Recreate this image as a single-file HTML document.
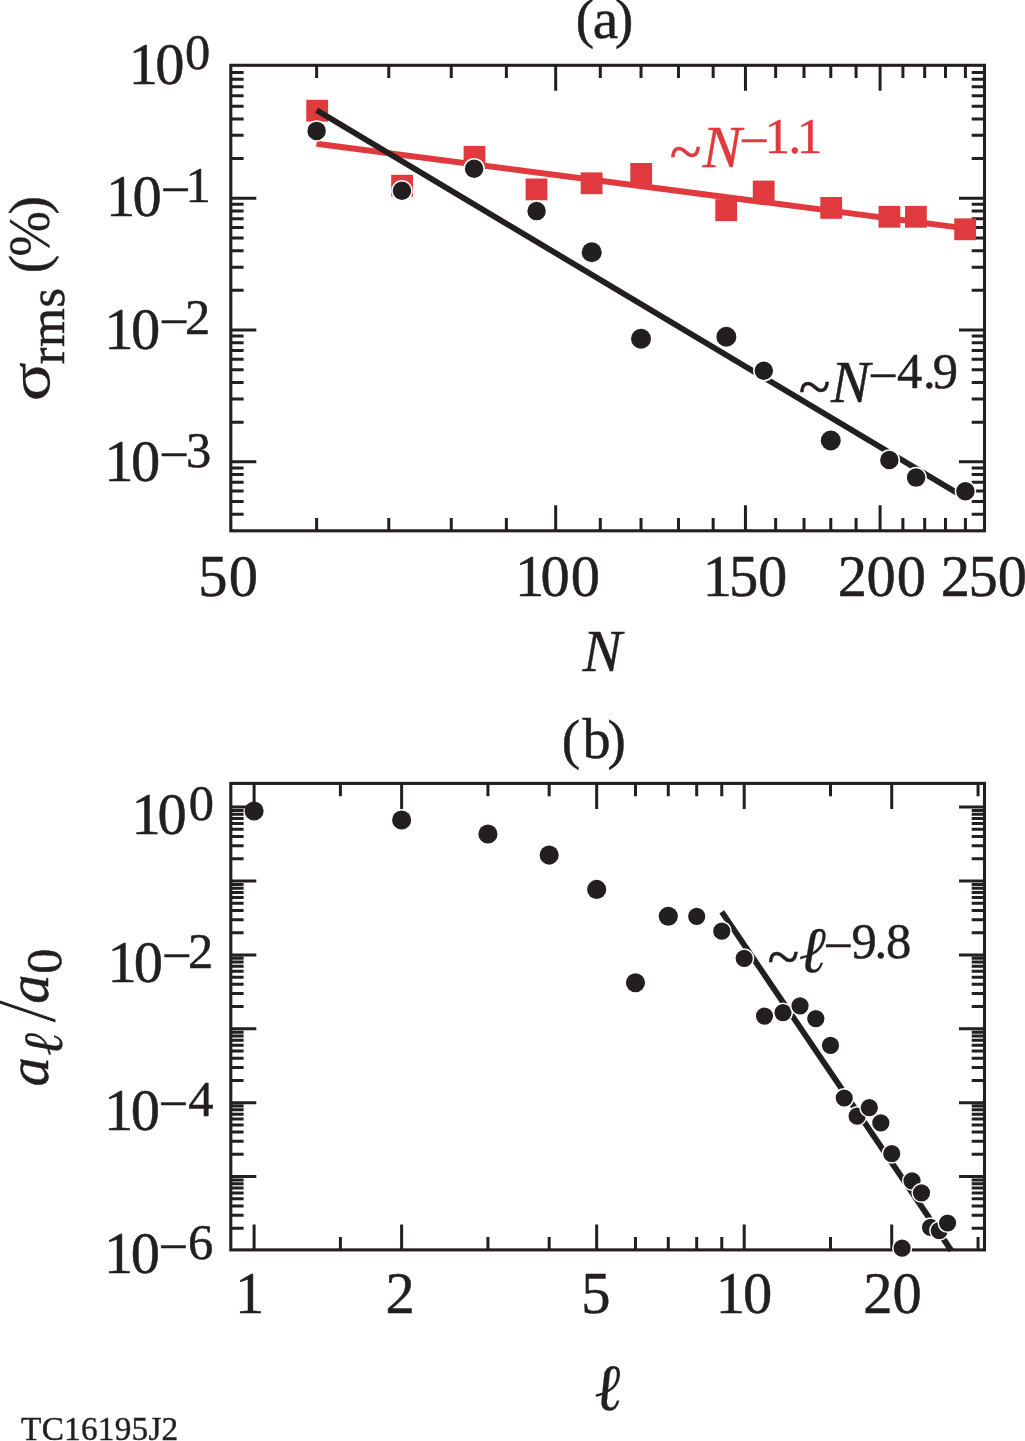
<!DOCTYPE html>
<html><head><meta charset="utf-8"><title>Figure</title>
<style>
html,body{margin:0;padding:0;background:#fff;overflow:hidden;}
svg{display:block;}
text{font-family:"Liberation Serif",serif;fill:#231f20;stroke:#231f20;stroke-width:0.5px;white-space:pre;}
</style></head><body>
<svg width="1025" height="1441" viewBox="0 0 1025 1441">
<rect width="1025" height="1441" fill="#fff"/>
<path d="M316.63 65.3v12.8M316.63 530.8v-12.8M388.77 65.3v12.8M388.77 530.8v-12.8M451.26 65.3v12.8M451.26 530.8v-12.8M506.38 65.3v12.8M506.38 530.8v-12.8M555.69 65.3v25.5M555.69 530.8v-25.5M600.29 65.3v12.8M600.29 530.8v-12.8M641.02 65.3v12.8M641.02 530.8v-12.8M678.48 65.3v12.8M678.48 530.8v-12.8M713.16 65.3v12.8M713.16 530.8v-12.8M745.45 65.3v25.5M745.45 530.8v-25.5M775.65 65.3v12.8M775.65 530.8v-12.8M804.02 65.3v12.8M804.02 530.8v-12.8M830.77 65.3v12.8M830.77 530.8v-12.8M856.07 65.3v12.8M856.07 530.8v-12.8M880.08 65.3v25.5M880.08 530.8v-25.5M902.91 65.3v12.8M902.91 530.8v-12.8M924.68 65.3v12.8M924.68 530.8v-12.8M945.49 65.3v12.8M945.49 530.8v-12.8M965.41 65.3v12.8M965.41 530.8v-12.8M230.8 198.25h25.5M984.5 198.25h-25.5M230.8 158.57h12.8M984.5 158.57h-12.8M230.8 135.37h12.8M984.5 135.37h-12.8M230.8 118.90h12.8M984.5 118.90h-12.8M230.8 106.13h12.8M984.5 106.13h-12.8M230.8 95.69h12.8M984.5 95.69h-12.8M230.8 86.87h12.8M984.5 86.87h-12.8M230.8 79.22h12.8M984.5 79.22h-12.8M230.8 72.48h12.8M984.5 72.48h-12.8M230.8 330.05h25.5M984.5 330.05h-25.5M230.8 290.37h12.8M984.5 290.37h-12.8M230.8 267.17h12.8M984.5 267.17h-12.8M230.8 250.70h12.8M984.5 250.70h-12.8M230.8 237.93h12.8M984.5 237.93h-12.8M230.8 227.49h12.8M984.5 227.49h-12.8M230.8 218.67h12.8M984.5 218.67h-12.8M230.8 211.02h12.8M984.5 211.02h-12.8M230.8 204.28h12.8M984.5 204.28h-12.8M230.8 461.85h25.5M984.5 461.85h-25.5M230.8 422.17h12.8M984.5 422.17h-12.8M230.8 398.97h12.8M984.5 398.97h-12.8M230.8 382.50h12.8M984.5 382.50h-12.8M230.8 369.73h12.8M984.5 369.73h-12.8M230.8 359.29h12.8M984.5 359.29h-12.8M230.8 350.47h12.8M984.5 350.47h-12.8M230.8 342.82h12.8M984.5 342.82h-12.8M230.8 336.08h12.8M984.5 336.08h-12.8M230.8 514.30h12.8M984.5 514.30h-12.8M230.8 501.53h12.8M984.5 501.53h-12.8M230.8 491.09h12.8M984.5 491.09h-12.8M230.8 482.27h12.8M984.5 482.27h-12.8M230.8 474.62h12.8M984.5 474.62h-12.8M230.8 467.88h12.8M984.5 467.88h-12.8" stroke="#231f20" stroke-width="3.0" fill="none"/>
<rect x="230.8" y="65.3" width="753.70" height="465.50" fill="none" stroke="#231f20" stroke-width="3.1"/>
<rect x="306.30" y="99.80" width="21.8" height="21.8" fill="#e0393e"/>
<rect x="391.20" y="174.80" width="21.8" height="21.8" fill="#e0393e"/>
<rect x="463.60" y="145.90" width="21.8" height="21.8" fill="#e0393e"/>
<rect x="525.60" y="178.50" width="21.8" height="21.8" fill="#e0393e"/>
<rect x="580.70" y="172.40" width="21.8" height="21.8" fill="#e0393e"/>
<rect x="630.30" y="163.00" width="21.8" height="21.8" fill="#e0393e"/>
<rect x="715.30" y="199.30" width="21.8" height="21.8" fill="#e0393e"/>
<rect x="752.80" y="180.60" width="21.8" height="21.8" fill="#e0393e"/>
<rect x="820.30" y="197.00" width="21.8" height="21.8" fill="#e0393e"/>
<rect x="878.50" y="205.90" width="21.8" height="21.8" fill="#e0393e"/>
<rect x="905.00" y="205.90" width="21.8" height="21.8" fill="#e0393e"/>
<rect x="954.25" y="218.40" width="21.8" height="21.8" fill="#e0393e"/>
<line x1="316.5" y1="143.7" x2="965.5" y2="228.4" stroke="#e0393e" stroke-width="6"/>
<line x1="316.7" y1="110.3" x2="963" y2="496.6" stroke="#231f20" stroke-width="5.8"/>
<circle cx="316.63" cy="130.90" r="10" fill="#231f20" stroke="#fff" stroke-width="1.5"/>
<circle cx="401.95" cy="190.80" r="10" fill="#231f20" stroke="#fff" stroke-width="1.5"/>
<circle cx="474.09" cy="168.70" r="10" fill="#231f20" stroke="#fff" stroke-width="1.5"/>
<circle cx="536.59" cy="211.10" r="10" fill="#231f20" stroke="#fff" stroke-width="1.5"/>
<circle cx="591.71" cy="252.30" r="10" fill="#231f20"/>
<circle cx="641.02" cy="338.80" r="10" fill="#231f20"/>
<circle cx="726.34" cy="336.80" r="10" fill="#231f20"/>
<circle cx="763.80" cy="370.80" r="10" fill="#231f20" stroke="#fff" stroke-width="1.5"/>
<circle cx="830.77" cy="440.50" r="10" fill="#231f20"/>
<circle cx="889.35" cy="460.00" r="10" fill="#231f20" stroke="#fff" stroke-width="1.5"/>
<circle cx="916.10" cy="477.60" r="10" fill="#231f20" stroke="#fff" stroke-width="1.5"/>
<circle cx="965.41" cy="491.30" r="10" fill="#231f20" stroke="#fff" stroke-width="1.5"/>
<path d="M254.10 783.4v25.5M254.10 1249.9v-25.5M340.40 783.4v12.8M340.40 1249.9v-12.8M401.63 783.4v25.5M401.63 1249.9v-25.5M487.94 783.4v12.8M487.94 1249.9v-12.8M549.17 783.4v12.8M549.17 1249.9v-12.8M596.67 783.4v25.5M596.67 1249.9v-25.5M635.47 783.4v12.8M635.47 1249.9v-12.8M668.28 783.4v12.8M668.28 1249.9v-12.8M696.70 783.4v12.8M696.70 1249.9v-12.8M721.77 783.4v12.8M721.77 1249.9v-12.8M744.20 783.4v25.5M744.20 1249.9v-25.5M830.50 783.4v12.8M830.50 1249.9v-12.8M891.73 783.4v25.5M891.73 1249.9v-25.5M978.04 783.4v12.8M978.04 1249.9v-12.8M230.8 807.10h25.5M984.5 807.10h-25.5M230.8 881.00h25.5M984.5 881.00h-25.5M230.8 858.75h12.8M984.5 858.75h-12.8M230.8 845.74h12.8M984.5 845.74h-12.8M230.8 836.51h12.8M984.5 836.51h-12.8M230.8 829.35h12.8M984.5 829.35h-12.8M230.8 823.49h12.8M984.5 823.49h-12.8M230.8 818.55h12.8M984.5 818.55h-12.8M230.8 814.26h12.8M984.5 814.26h-12.8M230.8 810.48h12.8M984.5 810.48h-12.8M230.8 954.90h25.5M984.5 954.90h-25.5M230.8 932.65h12.8M984.5 932.65h-12.8M230.8 919.64h12.8M984.5 919.64h-12.8M230.8 910.41h12.8M984.5 910.41h-12.8M230.8 903.25h12.8M984.5 903.25h-12.8M230.8 897.39h12.8M984.5 897.39h-12.8M230.8 892.45h12.8M984.5 892.45h-12.8M230.8 888.16h12.8M984.5 888.16h-12.8M230.8 884.38h12.8M984.5 884.38h-12.8M230.8 1028.80h25.5M984.5 1028.80h-25.5M230.8 1006.55h12.8M984.5 1006.55h-12.8M230.8 993.54h12.8M984.5 993.54h-12.8M230.8 984.31h12.8M984.5 984.31h-12.8M230.8 977.15h12.8M984.5 977.15h-12.8M230.8 971.29h12.8M984.5 971.29h-12.8M230.8 966.35h12.8M984.5 966.35h-12.8M230.8 962.06h12.8M984.5 962.06h-12.8M230.8 958.28h12.8M984.5 958.28h-12.8M230.8 1102.70h25.5M984.5 1102.70h-25.5M230.8 1080.45h12.8M984.5 1080.45h-12.8M230.8 1067.44h12.8M984.5 1067.44h-12.8M230.8 1058.21h12.8M984.5 1058.21h-12.8M230.8 1051.05h12.8M984.5 1051.05h-12.8M230.8 1045.19h12.8M984.5 1045.19h-12.8M230.8 1040.25h12.8M984.5 1040.25h-12.8M230.8 1035.96h12.8M984.5 1035.96h-12.8M230.8 1032.18h12.8M984.5 1032.18h-12.8M230.8 1176.60h25.5M984.5 1176.60h-25.5M230.8 1154.35h12.8M984.5 1154.35h-12.8M230.8 1141.34h12.8M984.5 1141.34h-12.8M230.8 1132.11h12.8M984.5 1132.11h-12.8M230.8 1124.95h12.8M984.5 1124.95h-12.8M230.8 1119.09h12.8M984.5 1119.09h-12.8M230.8 1114.15h12.8M984.5 1114.15h-12.8M230.8 1109.86h12.8M984.5 1109.86h-12.8M230.8 1106.08h12.8M984.5 1106.08h-12.8M230.8 1228.25h12.8M984.5 1228.25h-12.8M230.8 1215.24h12.8M984.5 1215.24h-12.8M230.8 1206.01h12.8M984.5 1206.01h-12.8M230.8 1198.85h12.8M984.5 1198.85h-12.8M230.8 1192.99h12.8M984.5 1192.99h-12.8M230.8 1188.05h12.8M984.5 1188.05h-12.8M230.8 1183.76h12.8M984.5 1183.76h-12.8M230.8 1179.98h12.8M984.5 1179.98h-12.8" stroke="#231f20" stroke-width="3.0" fill="none"/>
<rect x="230.8" y="783.4" width="753.70" height="466.50" fill="none" stroke="#231f20" stroke-width="3.1"/>
<line x1="721.8" y1="911.9" x2="951.3" y2="1250.5" stroke="#231f20" stroke-width="5.8"/>
<circle cx="254.10" cy="811.00" r="9.55" fill="#231f20"/>
<circle cx="401.63" cy="820.00" r="9.55" fill="#231f20"/>
<circle cx="487.94" cy="834.00" r="9.55" fill="#231f20"/>
<circle cx="549.17" cy="855.10" r="9.55" fill="#231f20"/>
<circle cx="596.67" cy="889.40" r="9.55" fill="#231f20"/>
<circle cx="635.47" cy="982.70" r="9.55" fill="#231f20"/>
<circle cx="668.28" cy="916.30" r="9.55" fill="#231f20"/>
<circle cx="696.70" cy="916.30" r="9.35" fill="#231f20" stroke="#fff" stroke-width="1.5"/>
<circle cx="721.77" cy="931.20" r="9.35" fill="#231f20" stroke="#fff" stroke-width="1.5"/>
<circle cx="744.20" cy="958.30" r="9.35" fill="#231f20" stroke="#fff" stroke-width="1.5"/>
<circle cx="764.49" cy="1016.10" r="9.35" fill="#231f20" stroke="#fff" stroke-width="1.5"/>
<circle cx="783.01" cy="1012.60" r="9.35" fill="#231f20" stroke="#fff" stroke-width="1.5"/>
<circle cx="800.04" cy="1005.90" r="9.35" fill="#231f20" stroke="#fff" stroke-width="1.5"/>
<circle cx="815.82" cy="1018.70" r="9.35" fill="#231f20" stroke="#fff" stroke-width="1.5"/>
<circle cx="830.50" cy="1045.40" r="9.35" fill="#231f20" stroke="#fff" stroke-width="1.5"/>
<circle cx="844.24" cy="1098.00" r="9.35" fill="#231f20" stroke="#fff" stroke-width="1.5"/>
<circle cx="857.14" cy="1116.20" r="9.35" fill="#231f20" stroke="#fff" stroke-width="1.5"/>
<circle cx="869.31" cy="1107.70" r="9.35" fill="#231f20" stroke="#fff" stroke-width="1.5"/>
<circle cx="880.82" cy="1122.90" r="9.35" fill="#231f20" stroke="#fff" stroke-width="1.5"/>
<circle cx="891.73" cy="1153.70" r="9.35" fill="#231f20" stroke="#fff" stroke-width="1.5"/>
<circle cx="902.12" cy="1248.20" r="9.35" fill="#231f20" stroke="#fff" stroke-width="1.5"/>
<circle cx="912.02" cy="1180.90" r="9.35" fill="#231f20" stroke="#fff" stroke-width="1.5"/>
<circle cx="921.48" cy="1192.90" r="9.35" fill="#231f20" stroke="#fff" stroke-width="1.5"/>
<circle cx="930.54" cy="1227.40" r="9.35" fill="#231f20" stroke="#fff" stroke-width="1.5"/>
<circle cx="939.23" cy="1230.60" r="9.35" fill="#231f20" stroke="#fff" stroke-width="1.5"/>
<circle cx="947.58" cy="1223.00" r="9.35" fill="#231f20" stroke="#fff" stroke-width="1.5"/>
<text><tspan x="575.83" y="37.2" font-size="55">(</tspan><tspan x="592.83" y="38" font-size="57.5">a</tspan><tspan x="614.98" y="37.2" font-size="55">)</tspan></text>
<text><tspan x="561.83" y="757.5" font-size="55">(</tspan><tspan x="582.55" y="758.3" font-size="56.2">b</tspan><tspan x="607.48" y="757.5" font-size="55">)</tspan></text>
<text><tspan x="128.71 155.13" y="83.5" font-size="58.5">10</tspan><tspan x="185.03" y="69.2" font-size="50.5">0</tspan></text>
<text><tspan x="106.01 132.43" y="215.5" font-size="58.5">10</tspan><tspan x="163.77" y="200.9" font-size="47.5">–</tspan><tspan x="185.41" y="201.5" font-size="50.5">1</tspan></text>
<text><tspan x="104.31 131.03" y="348.7" font-size="58.5">10</tspan><tspan x="162.37" y="333.3" font-size="47.5">–</tspan><tspan x="185.03" y="333.9" font-size="50.5">2</tspan></text>
<text><tspan x="104.31 131.03" y="481.2" font-size="58.5">10</tspan><tspan x="162.37" y="466.2" font-size="47.5">–</tspan><tspan x="186.03" y="466.8" font-size="50.5">3</tspan></text>
<text><tspan x="131.41 157.43" y="833.8" font-size="58.5">10</tspan><tspan x="188.63" y="819.6" font-size="50.5">0</tspan></text>
<text><tspan x="107.61 133.73" y="981.8" font-size="58.5">10</tspan><tspan x="164.97" y="967.0" font-size="47.5">–</tspan><tspan x="188.03" y="967.6" font-size="50.5">2</tspan></text>
<text><tspan x="104.01 130.73" y="1130" font-size="58.5">10</tspan><tspan x="161.57" y="1114.9" font-size="47.5">–</tspan><tspan x="188.26" y="1115.5" font-size="50.5">4</tspan></text>
<text><tspan x="104.01 130.73" y="1272.9" font-size="58.5">10</tspan><tspan x="161.57" y="1258.1" font-size="47.5">–</tspan><tspan x="188.08" y="1258.7" font-size="50.5">6</tspan></text>
<text><tspan x="198.15 228.83" y="595.8" font-size="58.5">50</tspan></text>
<text><tspan x="515.11 540.62 570.82" y="595.8" font-size="58.5">100</tspan></text>
<text><tspan x="702.81 729.05 758.12" y="595.8" font-size="58.5">150</tspan></text>
<text><tspan x="837.68 866.42 896.72" y="595.8" font-size="58.5">200</tspan></text>
<text><tspan x="940.73 968.55 997.72" y="595.8" font-size="58.5">250</tspan></text>
<text><tspan x="235.11" y="1313" font-size="58.5">1</tspan></text>
<text><tspan x="385.38" y="1313" font-size="58.5">2</tspan></text>
<text><tspan x="581.25" y="1313" font-size="58.5">5</tspan></text>
<text><tspan x="715.81 743.03" y="1313" font-size="58.5">10</tspan></text>
<text><tspan x="863.28 892.43" y="1313" font-size="58.5">20</tspan></text>
<text><tspan x="582.68" y="670.7" font-size="58.5" font-style="italic">N</tspan></text>
<text transform="translate(590.50,1410.3) skewX(-6) translate(-590.50,-1410.3)"><tspan x="590.50" y="1410.3" font-size="66" style="stroke-width:0.2px;">ℓ</tspan></text>
<text style="fill:#e0393e;stroke:#e0393e"><tspan x="669.72" y="171.6" font-size="58.5">~</tspan><tspan x="702.38" y="167.3" font-size="58.5" font-style="italic">N</tspan><tspan x="742.27" y="152.1" font-size="47.5">–</tspan><tspan x="764.71 788.42 796.91" y="152.7" font-size="50.5">1.1</tspan></text>
<text><tspan x="798.72" y="406.5" font-size="58.5">~</tspan><tspan x="830.98" y="402.2" font-size="58.5" font-style="italic">N</tspan><tspan x="871.27" y="387.4" font-size="47.5">–</tspan><tspan x="896.96 922.92 932.72" y="388" font-size="50.5">4.9</tspan></text>
<text><tspan x="767.52" y="976.7" font-size="58.5">~</tspan><tspan x="798.87" y="972.4" font-size="65" font-style="italic" style="stroke-width:0.2px;">ℓ</tspan><tspan x="826.47" y="957.4" font-size="47.5">–</tspan><tspan x="851.42 874.52 886.03" y="958" font-size="50.5">9.8</tspan></text>
<text transform="rotate(-90)"><tspan x="-401.23" y="48.8" font-size="57.5" style="stroke-width:0.25px;" textLength="39.06" lengthAdjust="spacingAndGlyphs">σ</tspan><tspan x="-364.15 -347.00 -307.60" y="63.6" font-size="50">rms</tspan><tspan x="-279.75" y="48.7" font-size="58.5"> </tspan><tspan x="-273.37" y="47.4" font-size="55">(</tspan><tspan x="-256.68" y="48.7" font-size="59" style="stroke-width:0.2px;" textLength="45.71" lengthAdjust="spacingAndGlyphs">%</tspan><tspan x="-214.42" y="47.4" font-size="55">)</tspan></text>
<text transform="rotate(-90)"><tspan x="-1086.49" y="47.8" font-size="58.5" font-style="italic">a</tspan><tspan x="-1056.04" y="61.9" font-size="55.5" font-style="italic" style="stroke-width:0.2px;">ℓ</tspan><tspan x="-1023.15" y="55.2" font-size="86" style="stroke:#fff;stroke-width:0.9px;">/</tspan><tspan x="-1003.69" y="47.8" font-size="58.5" font-style="italic">a</tspan><tspan x="-973.87" y="61.4" font-size="50.5">0</tspan></text>
<text><tspan x="21.10 41.66 64.08 80.95 97.81 114.68 131.55 148.41 161.59" y="1439.5" font-size="33.3" style="stroke-width:0.4px;">TC16195J2</tspan></text>
</svg>
</body></html>
